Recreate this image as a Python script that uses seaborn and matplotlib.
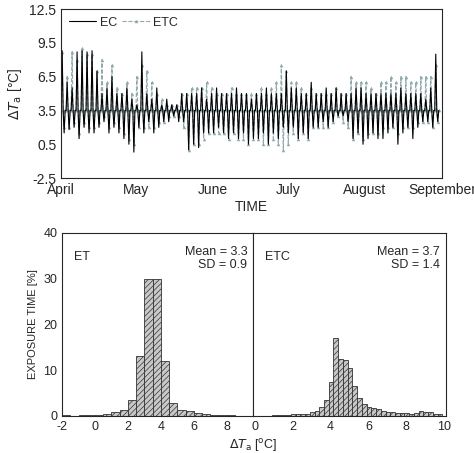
import matplotlib
matplotlib.use("Agg")
import matplotlib.pyplot as plt
import seaborn as sns
import numpy as np
import pandas as pd

sns.set_style("white")
plt.rcParams['font.family'] = ['Liberation Sans', 'DejaVu Sans']

# 2-day bins, Apr 1 - Sep 1: spike highs / lows around base
base = 3.5
ec_high = [8.8,6,5.5,8.7,8.8,8.7,8.8,7,5,5.5,6.5,5,5,5.5,4.5,
           4,8.7,5,4.5,5.5,4,4.5,4,4,5,5,5,5,5.5,4.5,
           5,5.5,5,5,5,5.5,5,5,4.5,5,5,5.5,5,5,5,
           7,5.5,5.5,5,5,6,5,5,5.5,5,5.5,5,5,5,5.5,
           5.5,5,5,5,5,5,5,5,5.5,5,5,5,5,4.5,5.5,8.5]
ec_low = [1.5,1.8,2,1,2,1.5,1.5,2,2.5,1.5,2,1.5,1,0.5,-0.2,
          2,1.5,2.5,1.5,2,2.5,2.5,3,2.5,2.5,0,0.5,0.2,1.5,1.5,
          1.5,2,1.5,1,1.5,1,1.5,0.5,1,1,1.5,0.5,1.5,1,2,
          1.5,2,1,1.5,1,2,2,2.5,2,2.5,3,3,2.5,1,1.5,
          0.5,1,1.5,1,1,1.5,2,0.5,1.5,2,1,2,2.5,2.5,2,2.5]
etc_high = [8.7,6.5,8.7,8,9,8.5,8.5,7,8,6,7.5,5.5,5,6,5,
            6.5,7.5,7,6,5,4.5,4,4,4,5,5,5.5,5.5,5.5,6,
            5.5,5,5,5,5.5,5,5,5,5,5,5.5,5,5.5,6,7.5,
            7,6,6,5.5,5,5.5,5,5,5,5,5.5,5,5,6.5,6,
            6,6,5.5,5,6,6,6.5,6,6.5,6.5,6,6,6.5,6.5,6.5,7.5]
etc_low = [2,2,2.5,1.5,2.5,2,2,2.5,3,2,2.5,2,1.5,1,0.5,
           2,2,2,2,2.5,2.5,3,3,3,2,0,0.5,0.5,1,1.5,
           1.5,1.5,1.5,1,1.5,1,1,0.5,1,1,0.5,0.5,1,0.5,0,
           0.5,1.5,1,1.5,1,2,2,2,2,2.5,3,2.5,2,1,1.5,
           1,1.5,1.5,1.5,2,2,2,1.5,2,2,2,2.5,2.5,2.5,2,2.5]

months = ["April", "May", "June", "July", "August", "September"]
month_days = [0, 30, 61, 91, 122, 153]

# histogram data
et_edges = [-2 + 0.5*i for i in range(24)]
et_vals = [0.2,0.05,0.1,0.2,0.15,0.5,0.8,1.3,3.5,13,30,30,12,2.8,1.3,1.0,0.6,0.4,0.2,0.2,0.15,0.05,0.02]
etc_edges = [0.25*i - 0.1 for i in range(41)]
etc_vals = [0.05,0.05,0.05,0.05,0.1,0.2,0.1,0.1,0.3,0.3,0.4,0.5,0.8,1.0,2.0,3.5,
            7.3,17,12.5,12.2,10.5,6.5,4,2.5,2.0,1.7,1.5,1.1,0.9,0.8,0.7,0.6,
            0.6,0.5,0.6,1.0,0.9,0.9,0.5,0.3]

def build(high, low):
    xs, ys = [], []
    for i, (h, l) in enumerate(zip(high, low)):
        d = 2*i
        for off, v in [(0.0, base), (0.4, h), (0.8, base), (1.2, l), (1.6, base)]:
            xs.append(d + off); ys.append(v)
    return pd.DataFrame({"day": xs, "val": ys})

fig = plt.figure(figsize=(4.74, 4.53), dpi=100)
ax1 = fig.add_axes([0.129, 0.607, 0.804, 0.373])
df_etc = build(etc_high, etc_low)
df_ec = build(ec_high, ec_low)
sns.lineplot(data=df_etc, x="day", y="val", ax=ax1, color="#8fa9ad", lw=0.8,
             linestyle="--", marker="^", markersize=2.5, markeredgewidth=0, label="ETC")
sns.lineplot(data=df_ec, x="day", y="val", ax=ax1, color="black", lw=0.8, label="EC")
h, l = ax1.get_legend_handles_labels()
ax1.legend(h[::-1], l[::-1], loc="upper left", ncol=2, frameon=False, fontsize=9,
           handlelength=2.2, columnspacing=0.4, handletextpad=0.3, borderaxespad=0.2)
ax1.set_xlim(0, 153)
ax1.set_ylim(-2.5, 12.5)
ax1.set_yticks([-2.5, 0.5, 3.5, 6.5, 9.5, 12.5])
ax1.set_yticklabels(["-2.5", "0.5", "3.5", "6.5", "9.5", "12.5"], fontsize=10)
ax1.set_xticks(month_days)
ax1.set_xticklabels(months, fontsize=10)
ax1.set_xlabel("TIME", fontsize=10, labelpad=2)
ax1.set_ylabel(r"$\Delta T_\mathrm{a}$ [°C]", fontsize=10)
ax1.tick_params(direction="in", length=3, width=0.8)

def hist_panel(rect, edges, vals, xlim, xticks, name, stats):
    ax = fig.add_axes(rect)
    centers = [(edges[i]+edges[i+1])/2 for i in range(len(vals))]
    sns.histplot(x=centers, weights=vals, bins=edges, ax=ax, color="#c8c8c8",
                 edgecolor="#333333", linewidth=0.6, alpha=1)
    for p in ax.patches:
        p.set_hatch("//////")
    ax.set_xlim(*xlim)
    ax.set_ylim(0, 40)
    ax.set_xticks(xticks)
    ax.set_xticklabels([str(t) for t in xticks], fontsize=9)
    ax.set_ylabel("")
    ax.text(0.06, 0.9, name, transform=ax.transAxes, fontsize=9, va="top")
    ax.text(0.97, 0.93, stats, transform=ax.transAxes, fontsize=9, va="top", ha="right")
    ax.tick_params(direction="in", length=2, width=0.8)
    return ax

plt.rcParams['hatch.linewidth'] = 0.5
axl = hist_panel([0.131, 0.082, 0.403, 0.404], et_edges, et_vals, (-2, 9.6),
                 [-2, 0, 2, 4, 6, 8], "ET", "Mean = 3.3\nSD = 0.9")
axr = hist_panel([0.534, 0.082, 0.407, 0.404], etc_edges, etc_vals, (-0.1, 10.1),
                 [0, 2, 4, 6, 8, 10], "ETC", "Mean = 3.7\nSD = 1.4")
axl.set_yticks([0, 10, 20, 30, 40])
axl.set_yticklabels(["0", "10", "20", "30", "40"], fontsize=9)
axl.set_ylabel("EXPOSURE TIME [%]", fontsize=8)
axr.set_yticks([])
axl.set_xlabel("")
axr.set_xlabel("")
fig.text(0.534, 0.008, r"$\Delta T_\mathrm{a}$ [$^\mathrm{o}$C]", ha="center", fontsize=9)

fig.savefig("out.png", dpi=100)
